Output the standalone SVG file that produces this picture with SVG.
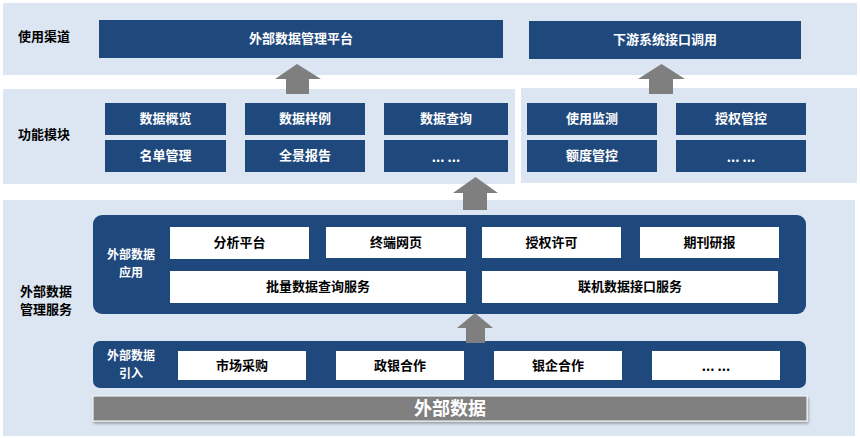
<svg xmlns="http://www.w3.org/2000/svg" width="860" height="438" viewBox="0 0 860 438">
<defs>
<style>
.band{fill:#DCE6F2}
.nb{fill:#1F497D}
.wb{fill:#FFFFFF}
.arr{fill:#7F7F7F}
text{font-family:"Noto Sans CJK SC","Microsoft YaHei",sans-serif;font-weight:bold;text-anchor:middle;dominant-baseline:central}
.tw{fill:#FFFFFF;font-size:13px}
.tw2{fill:#FFFFFF;font-size:12px}
.tb{fill:#000000;font-size:13px}
.lab{fill:#000000;font-size:13px}
.big{fill:#FFFFFF;font-size:18px}
</style>
<filter id="sh" x="-5%" y="-30%" width="110%" height="170%">
<feDropShadow dx="1" dy="2" stdDeviation="1.5" flood-color="#000" flood-opacity="0.35"/>
</filter>
</defs>
<rect width="860" height="438" fill="#FFFFFF"/>
<g id="bands">
<rect class="band" x="3" y="3" width="854" height="72"/>
<rect class="band" x="3" y="89" width="512" height="95"/>
<rect class="band" x="521" y="88" width="336" height="95"/>
<rect class="band" x="3" y="200" width="852" height="236"/>
</g>
<g id="labels">
<text class="lab" x="44" y="35.5">使用渠道</text>
<text class="lab" x="44" y="133.5">功能模块</text>
<text class="lab" x="46" y="290.5">外部数据</text>
<text class="lab" x="46" y="308.5">管理服务</text>
</g>
<g id="node-platform"><rect class="nb" x="99" y="20" width="404" height="38"/><text class="tw" x="301" y="37.5">外部数据管理平台</text></g>
<g id="node-downstream"><rect class="nb" x="529" y="21" width="272" height="38"/><text class="tw" x="665" y="38.5">下游系统接口调用</text></g>
<g id="node-f1"><rect class="nb" x="105" y="103" width="121" height="32"/><text class="tw" x="165.5" y="117.5">数据概览</text></g>
<g id="node-f2"><rect class="nb" x="245" y="103" width="120" height="32"/><text class="tw" x="305" y="117.5">数据样例</text></g>
<g id="node-f3"><rect class="nb" x="384" y="103" width="124" height="32"/><text class="tw" x="446" y="117.5">数据查询</text></g>
<g id="node-f4"><rect class="nb" x="105" y="140" width="121" height="32"/><text class="tw" x="165.5" y="154.5">名单管理</text></g>
<g id="node-f5"><rect class="nb" x="245" y="140" width="120" height="32"/><text class="tw" x="305" y="154.5">全景报告</text></g>
<g id="node-f6"><rect class="nb" x="384" y="140" width="124" height="32"/><text class="tw" x="446" y="156">... ...</text></g>
<g id="node-f7"><rect class="nb" x="527" y="103" width="130" height="32"/><text class="tw" x="592" y="117.5">使用监测</text></g>
<g id="node-f8"><rect class="nb" x="676" y="103" width="130" height="32"/><text class="tw" x="741" y="117.5">授权管控</text></g>
<g id="node-f9"><rect class="nb" x="527" y="140" width="130" height="32"/><text class="tw" x="592" y="154.5">额度管控</text></g>
<g id="node-f10"><rect class="nb" x="676" y="140" width="130" height="32"/><text class="tw" x="741" y="156">... ...</text></g>
<g id="node-app">
<rect class="nb" x="93" y="215" width="713" height="99" rx="9"/>
<text class="tw2" x="131" y="253">外部数据</text>
<text class="tw2" x="131" y="271">应用</text>
</g>
<g id="node-a1"><rect class="wb" x="170" y="227" width="139" height="32"/><text class="tb" x="239.5" y="241.5">分析平台</text></g>
<g id="node-a2"><rect class="wb" x="326" y="227" width="140" height="31"/><text class="tb" x="396" y="241">终端网页</text></g>
<g id="node-a3"><rect class="wb" x="482" y="227" width="139" height="31"/><text class="tb" x="551.5" y="241">授权许可</text></g>
<g id="node-a4"><rect class="wb" x="640" y="227" width="139" height="31"/><text class="tb" x="709.5" y="241">期刊研报</text></g>
<g id="node-a5"><rect class="wb" x="170" y="271" width="296" height="32"/><text class="tb" x="318" y="285.5">批量数据查询服务</text></g>
<g id="node-a6"><rect class="wb" x="482" y="271" width="296" height="32"/><text class="tb" x="630" y="285.5">联机数据接口服务</text></g>
<g id="node-import">
<rect class="nb" x="93" y="341" width="713" height="47" rx="7"/>
<text class="tw2" x="131" y="354">外部数据</text>
<text class="tw2" x="131" y="372">引入</text>
</g>
<g id="node-i1"><rect class="wb" x="178" y="351" width="128" height="29"/><text class="tb" x="242" y="364">市场采购</text></g>
<g id="node-i2"><rect class="wb" x="336" y="351" width="128" height="29"/><text class="tb" x="400" y="364">政银合作</text></g>
<g id="node-i3"><rect class="wb" x="494" y="351" width="128" height="29"/><text class="tb" x="558" y="364">银企合作</text></g>
<g id="node-i4"><rect class="wb" x="652" y="351" width="128" height="29"/><text class="tb" x="716" y="365.5">... ...</text></g>
<g id="node-source">
<rect x="93" y="396" width="714" height="25" fill="#808080" stroke="#FFFFFF" stroke-width="1" filter="url(#sh)"/>
<text class="big" x="450" y="407">外部数据</text>
</g>
<g id="connectors">
<polygon class="arr" points="297,64 321,79 309,79 309,94 286,94 286,79 275,79"/>
<polygon class="arr" points="661.5,64 685,79 673,79 673,94 649,94 649,79 638,79"/>
<polygon class="arr" points="475.5,177 498,193 487,193 487,210 463,210 463,193 453,193"/>
<polygon class="arr" points="475,313 493,328 485,328 485,343 466,343 466,328 457,328"/>
</g>
</svg>
